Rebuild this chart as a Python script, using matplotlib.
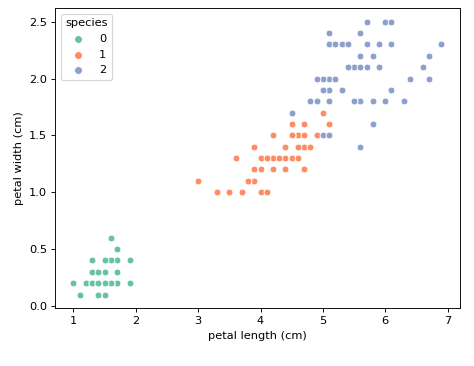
import numpy as np
import matplotlib
matplotlib.use('Agg')
from matplotlib import pyplot as plt

# iris petal measurements
petal_length = [
    1.4, 1.4, 1.3, 1.5, 1.4, 1.7, 1.4, 1.5, 1.4, 1.5, 1.5, 1.6, 1.4, 1.1, 1.2, 1.5, 1.3, 1.4, 1.7, 1.5,
    1.7, 1.5, 1.0, 1.7, 1.9, 1.6, 1.6, 1.5, 1.4, 1.6, 1.6, 1.5, 1.5, 1.4, 1.5, 1.2, 1.3, 1.4, 1.3, 1.5,
    1.3, 1.3, 1.3, 1.6, 1.9, 1.4, 1.6, 1.4, 1.5, 1.4,
    4.7, 4.5, 4.9, 4.0, 4.6, 4.5, 4.7, 3.3, 4.6, 3.9, 3.5, 4.2, 4.0, 4.7, 3.6, 4.4, 4.5, 4.1, 4.5, 3.9,
    4.8, 4.0, 4.9, 4.7, 4.3, 4.4, 4.8, 5.0, 4.5, 3.5, 3.8, 3.7, 3.9, 5.1, 4.5, 4.5, 4.7, 4.4, 4.1, 4.0,
    4.4, 4.6, 4.0, 3.3, 4.2, 4.2, 4.2, 4.3, 3.0, 4.1,
    6.0, 5.1, 5.9, 5.6, 5.8, 6.6, 4.5, 6.3, 5.8, 6.1, 5.1, 5.3, 5.5, 5.0, 5.1, 5.3, 5.5, 6.7, 6.9, 5.0,
    5.7, 4.9, 6.7, 4.9, 5.7, 6.0, 4.8, 4.9, 5.6, 5.8, 6.1, 6.4, 5.6, 5.1, 5.6, 6.1, 5.6, 5.5, 4.8, 5.4,
    5.6, 5.1, 5.1, 5.9, 5.7, 5.2, 5.0, 5.2, 5.4, 5.1,
]
petal_width = [
    0.2, 0.2, 0.2, 0.2, 0.2, 0.4, 0.3, 0.2, 0.2, 0.1, 0.2, 0.2, 0.1, 0.1, 0.2, 0.4, 0.4, 0.3, 0.3, 0.3,
    0.2, 0.4, 0.2, 0.5, 0.2, 0.2, 0.4, 0.2, 0.2, 0.2, 0.2, 0.4, 0.1, 0.2, 0.2, 0.2, 0.2, 0.1, 0.2, 0.2,
    0.3, 0.3, 0.2, 0.6, 0.4, 0.3, 0.2, 0.2, 0.2, 0.2,
    1.4, 1.5, 1.5, 1.3, 1.5, 1.3, 1.6, 1.0, 1.3, 1.4, 1.0, 1.5, 1.0, 1.4, 1.3, 1.4, 1.5, 1.0, 1.5, 1.1,
    1.8, 1.3, 1.5, 1.2, 1.3, 1.4, 1.4, 1.7, 1.5, 1.0, 1.1, 1.0, 1.2, 1.6, 1.5, 1.6, 1.5, 1.3, 1.3, 1.3,
    1.2, 1.4, 1.2, 1.0, 1.3, 1.2, 1.3, 1.3, 1.1, 1.3,
    2.5, 1.9, 2.1, 1.8, 2.2, 2.1, 1.7, 1.8, 1.8, 2.5, 2.0, 1.9, 2.1, 2.0, 2.4, 2.3, 1.8, 2.2, 2.3, 1.5,
    2.3, 2.0, 2.0, 1.8, 2.1, 1.8, 1.8, 1.8, 2.1, 1.6, 1.9, 2.0, 2.2, 1.5, 1.4, 2.3, 2.4, 1.8, 1.8, 2.1,
    2.4, 2.3, 1.9, 2.3, 2.5, 2.3, 1.9, 2.0, 2.3, 1.8,
]
species = [0] * 50 + [1] * 50 + [2] * 50
species_names = ['0', '1', '2']
colors = ['#66c2a5', '#fc8d62', '#8da0cb']

x = np.array(petal_length)
y = np.array(petal_width)
s = np.array(species)

fig = plt.figure(figsize=(474 / 82, 366 / 82), dpi=82)
ax = fig.add_axes([0.116, 0.158, 0.854, 0.820])

for k, name in enumerate(species_names):
    m = s == k
    ax.scatter(x[m], y[m], s=36, color=colors[k], edgecolor='white', linewidth=0.75, label=name)

ax.set_xlabel('petal length (cm)')
ax.set_ylabel('petal width (cm)')
ax.legend(title='species', loc='upper left', markerscale=1.15)

fig.savefig('out.png', dpi=82)
